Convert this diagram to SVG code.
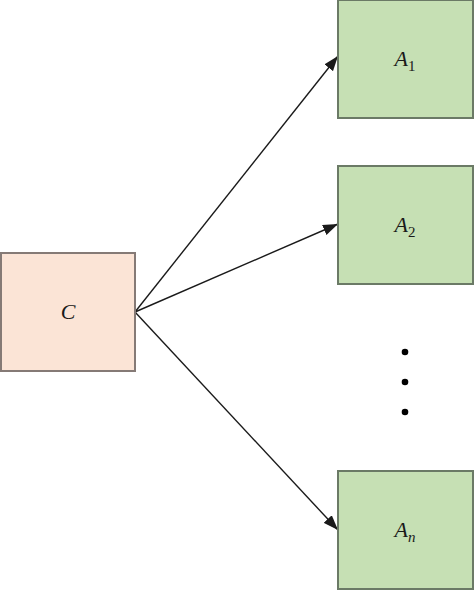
<svg xmlns="http://www.w3.org/2000/svg" width="474" height="590" viewBox="0 0 474 590">
<style>
.c{fill:#fbe4d6;stroke:#857a76;stroke-width:2}
.a{fill:#c6e0b4;stroke:#6b7a66;stroke-width:2}
.t{font-family:"Liberation Serif",serif;font-style:italic;font-size:22px;fill:#1a1a1a;text-anchor:middle}
.s{font-size:15px}
.r{font-style:normal}
.e{stroke:#1a1a1a;stroke-width:1.4;fill:none;marker-end:url(#ah)}
</style>
<defs>
<marker id="ah" viewBox="0 0 15 11" refX="15" refY="5.5" markerWidth="15" markerHeight="11" markerUnits="userSpaceOnUse" orient="auto">
<path d="M0,0 L15,5.5 L0,11 Z" fill="#1a1a1a"/>
</marker>
</defs>
<rect width="474" height="590" fill="#fff"/>
<g id="connectors">
<line class="e" x1="135" y1="312" x2="338" y2="56"/>
<line class="e" x1="135" y1="312" x2="338" y2="224"/>
<line class="e" x1="135" y1="312" x2="338" y2="530"/>
</g>
<g id="C">
<rect class="c" x="1" y="253" width="134" height="118"/>
<text class="t" x="68" y="319">C</text>
</g>
<g id="A1">
<rect class="a" x="338" y="0" width="135" height="118"/>
<text class="t" x="405" y="66">A<tspan class="s r" dy="5">1</tspan></text>
</g>
<g id="A2">
<rect class="a" x="338" y="166" width="135" height="118"/>
<text class="t" x="405" y="232">A<tspan class="s r" dy="5">2</tspan></text>
</g>
<g id="An">
<rect class="a" x="338" y="471" width="135" height="118"/>
<text class="t" x="405" y="537">A<tspan class="s" dy="5">n</tspan></text>
</g>
<g id="dots" fill="#000">
<circle cx="405" cy="352" r="3.3"/>
<circle cx="405" cy="382" r="3.3"/>
<circle cx="405" cy="412" r="3.3"/>
</g>
</svg>
